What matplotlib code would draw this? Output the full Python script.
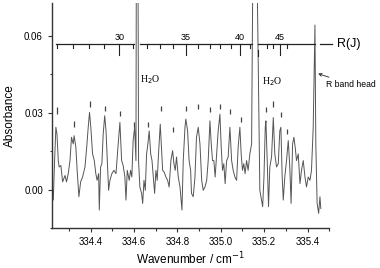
import matplotlib
matplotlib.use("Agg")
import matplotlib.pyplot as plt
import numpy as np

plt.rcParams["font.family"] = ["Liberation Sans", "DejaVu Sans"]

# ==================================================
# DATOS
# ==================================================
# espectro: numero de onda (cm-1) y absorbancia
wavenumber = [
    334.225, 334.228, 334.234, 334.240, 334.245, 334.251, 334.255, 334.263, 334.271, 334.282,
    334.289, 334.297, 334.305, 334.312, 334.320, 334.324, 334.332, 334.338, 334.346, 334.354,
    334.363, 334.374, 334.382, 334.389, 334.395, 334.401, 334.409, 334.417, 334.424, 334.430,
    334.437, 334.440, 334.446, 334.452, 334.458, 334.465, 334.471, 334.477, 334.483, 334.489,
    334.498, 334.507, 334.517, 334.526, 334.535, 334.543, 334.550, 334.558, 334.563, 334.569,
    334.578, 334.584, 334.590, 334.596, 334.603, 334.609, 334.611, 334.618, 334.621, 334.627,
    334.635, 334.640, 334.646, 334.652, 334.658, 334.664, 334.670, 334.677, 334.683, 334.689,
    334.695, 334.701, 334.707, 334.713, 334.721, 334.732, 334.739, 334.747, 334.755, 334.762,
    334.770, 334.778, 334.784, 334.790, 334.796, 334.804, 334.812, 334.821, 334.827, 334.835,
    334.839, 334.847, 334.854, 334.861, 334.865, 334.873, 334.881, 334.888, 334.896, 334.904,
    334.912, 334.919, 334.927, 334.935, 334.942, 334.950, 334.956, 334.962, 334.968, 334.974,
    334.981, 334.988, 334.996, 335.002, 335.008, 335.014, 335.020, 335.027, 335.034, 335.042,
    335.050, 335.057, 335.065, 335.073, 335.080, 335.088, 335.094, 335.100, 335.106, 335.112,
    335.119, 335.126, 335.134, 335.142, 335.149, 335.165, 335.180, 335.188, 335.193, 335.199,
    335.205, 335.208, 335.214, 335.220, 335.226, 335.234, 335.242, 335.249, 335.257, 335.265,
    335.272, 335.277, 335.283, 335.288, 335.295, 335.303, 335.311, 335.318, 335.324, 335.331,
    335.337, 335.343, 335.349, 335.357, 335.365, 335.372, 335.380, 335.388, 335.395, 335.403,
    335.411, 335.418, 335.426, 335.434, 335.438, 335.444, 335.451, 335.457, 335.461,
]
absorbance = [
    -0.0003, -0.0041, 0.0113, 0.0243, 0.0217, 0.0113, 0.0088, 0.0094, 0.0030, 0.0055,
    0.0030, 0.0062, 0.0113, 0.0204, 0.0178, 0.0210, 0.0165, 0.0075, -0.0028, 0.0030,
    0.0049, 0.0088, 0.0165, 0.0243, 0.0301, 0.0243, 0.0139, 0.0113, 0.0062, 0.0036,
    0.0062, -0.0080, 0.0088, 0.0101, 0.0217, 0.0288, 0.0229, 0.0113, -0.0003, 0.0036,
    0.0062, 0.0075, 0.0062, 0.0165, 0.0262, 0.0113, 0.0094, 0.0049, -0.0041, 0.0075,
    0.0036, 0.0075, 0.0049, 0.0191, 0.0243, 0.0113, 0.1000, 0.1000, 0.0113, 0.0010,
    -0.0015, -0.0054, 0.0036, -0.0003, 0.0139, 0.0178, 0.0229, 0.0139, 0.0113, 0.0049,
    -0.0015, 0.0075, 0.0036, 0.0139, 0.0255, 0.0075, 0.0068, 0.0049, 0.0036, 0.0010,
    0.0113, 0.0152, 0.0101, 0.0075, 0.0127, 0.0049, 0.0010, -0.0080, 0.0113, 0.0243,
    0.0275, 0.0229, 0.0113, 0.0075, -0.0015, -0.0028, 0.0049, 0.0204, 0.0243, 0.0178,
    0.0036, -0.0003, 0.0010, 0.0036, 0.0113, 0.0268, 0.0178, 0.0113, 0.0113, 0.0049,
    0.0139, 0.0229, 0.0294, 0.0165, 0.0075, 0.0101, 0.0023, 0.0113, 0.0127, 0.0243,
    0.0113, 0.0075, 0.0049, 0.0036, 0.0165, 0.0243, 0.0139, 0.0075, 0.0101, 0.0062,
    0.0113, 0.0075, 0.0139, 0.0178, 0.1000, 0.1000, -0.0003, -0.0041, -0.0067, 0.0049,
    0.0243, 0.0268, 0.0113, -0.0067, 0.0088, 0.0127, 0.0281, 0.0139, 0.0088, 0.0101,
    0.0229, 0.0243, 0.0049, -0.0041, 0.0049, 0.0113, 0.0191, 0.0088, -0.0054, 0.0178,
    0.0204, 0.0165, 0.0113, 0.0139, 0.0023, 0.0075, 0.0113, 0.0049, 0.0010, 0.0049,
    0.0036, 0.0075, 0.0243, 0.0642, 0.0178, -0.0054, -0.0093, -0.0028, -0.0074,
]

# escala R(J): posiciones de las lineas rotacionales
j_values = [26, 27, 28, 29, 30, 31, 32, 33, 34, 35, 36, 37, 38, 39, 40, 41, 42, 43, 44, 45, 46]
j_positions = [
    334.246, 334.320, 334.394, 334.463, 334.532, 334.596, 334.658, 334.719, 334.781, 334.839,
    334.896, 334.950, 334.996, 335.045, 335.088, 335.134, 335.170, 335.211, 335.239, 335.272,
    335.303,
]
j_labelled = [30, 35, 40, 45]

# marcas de asignacion encima de cada pico
mark_pos = [
    334.243, 334.323, 334.395, 334.466, 334.534, 334.600, 334.665, 334.724, 334.781, 334.839,
    334.896, 334.950, 334.996, 335.044, 335.091, 335.209, 335.240, 335.277, 335.306,
]
mark_lo = [
    0.0294, 0.0244, 0.0321, 0.0306, 0.0286, 0.0244, 0.0244, 0.0306, 0.0224, 0.0306,
    0.0313, 0.0302, 0.0313, 0.0294, 0.0263, 0.0302, 0.0321, 0.0283, 0.0217,
]
mark_hi = [
    0.0321, 0.0267, 0.0344, 0.0325, 0.0306, 0.0263, 0.0263, 0.0325, 0.0244, 0.0325,
    0.0333, 0.0321, 0.0333, 0.0313, 0.0282, 0.0321, 0.0344, 0.0302, 0.0236,
]

# tramos de la linea base de la escala R(J) (cortada por las lineas de H2O)
scale_y = 0.0569
scale_segments = [(334.240, 334.600), (334.627, 335.142), (335.172, 335.434), (335.457, 335.511)]

# ==================================================
# FIGURA
# ==================================================
fig = plt.figure(figsize=(3.8, 2.68), dpi=100)
ax = fig.add_axes([0.1368, 0.1493, 0.7297, 0.8396])

ax.plot(wavenumber, absorbance, color="#555555", linewidth=0.7)

# marcas cortas sobre los picos
ax.vlines(mark_pos, mark_lo, mark_hi, color="#444444", linewidth=0.9)

# escala R(J)
for x0, x1 in scale_segments:
    ax.plot([x0, x1], [scale_y, scale_y], color="#222222", linewidth=0.9, clip_on=False)

for j, xp in zip(j_values, j_positions):
    if j == 42:
        ax.plot([xp, xp], [0.0546, 0.0522], color="#222222", linewidth=0.8)
        continue
    y_end = 0.0526 if j in j_labelled else 0.0553
    ax.plot([xp, xp], [scale_y, y_end], color="#222222", linewidth=0.8)
    if j in j_labelled:
        ax.text(xp, scale_y + 0.0006, str(j), ha="center", va="bottom", fontsize=6.5)

ax.text(335.535, scale_y, "R(J)", ha="left", va="center", fontsize=9, clip_on=False)

# anotaciones
ax.text(334.627, 0.043, "H$_2$O", family="Liberation Serif", fontsize=7, ha="left", va="center")
ax.text(335.190, 0.0422, "H$_2$O", family="Liberation Serif", fontsize=7, ha="left", va="center")
ax.annotate("R band head", xy=(335.449, 0.0452), xytext=(335.487, 0.0410),
            fontsize=6.2, ha="left", va="center", annotation_clip=False,
            arrowprops=dict(arrowstyle="->", color="#222222", linewidth=0.6,
                            shrinkA=0, shrinkB=0, mutation_scale=5))

# ejes
ax.set_xlim(334.222, 335.5)
ax.set_ylim(-0.0143, 0.0728)
ax.set_xticks(np.arange(334.4, 335.41, 0.2))
ax.set_xticks(np.arange(334.3, 335.51, 0.2), minor=True)
ax.set_yticks([0.0, 0.03, 0.06])
ax.set_yticks([-0.015, 0.015, 0.045], minor=True)
ax.xaxis.set_major_formatter(plt.FormatStrFormatter("%.1f"))
ax.yaxis.set_major_formatter(plt.FormatStrFormatter("%.2f"))
ax.tick_params(which="major", direction="out", length=3, width=0.8, labelsize=7, color="#333333")
ax.tick_params(which="minor", direction="out", length=1.8, width=0.8, color="#333333")

for side in ["top", "right"]:
    ax.spines[side].set_visible(False)
for side in ["left", "bottom"]:
    ax.spines[side].set_color("#333333")
    ax.spines[side].set_linewidth(1.0)

ax.set_xlabel("Wavenumber / cm$^{-1}$", fontsize=8.5, labelpad=3)
ax.set_ylabel("Absorbance", fontsize=8.5, labelpad=6)

fig.savefig("out.png", dpi=100)
